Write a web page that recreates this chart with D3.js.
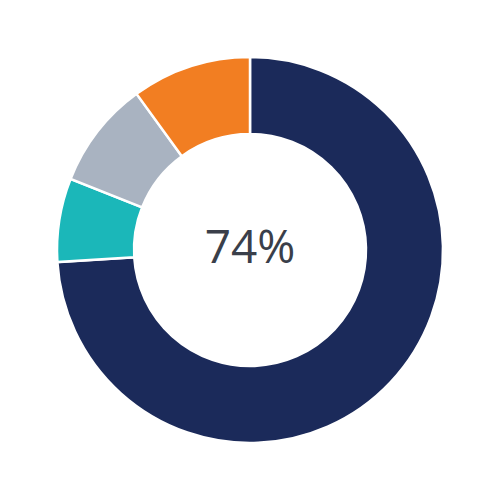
<!DOCTYPE html>
<html>
<head>
<meta charset="utf-8">
<script src="https://cdn.jsdelivr.net/npm/d3@7"></script>
<style>
  html, body { margin: 0; padding: 0; background: #fff; }
</style>
</head>
<body>
<svg id="chart" width="500" height="500"></svg>
<script>
const labels = ["Navy", "Teal", "Gray", "Orange"];
const values = [74, 7, 9, 10];
const colors = ["#1b2a5a", "#1bb7b9", "#a9b3c1", "#f27e22"];
const centerLabel = "74%";

const svg = d3.select("#chart");
const width = 500, height = 500;
const outer = 193, inner = 116;

const g = svg.append("g")
    .attr("transform", "translate(" + width / 2 + "," + height / 2 + ")");

const pie = d3.pie()
    .sort(null)
    .value(function(d) { return d; });

const arc = d3.arc()
    .innerRadius(inner)
    .outerRadius(outer);

g.selectAll("path")
    .data(pie(values))
    .enter().append("path")
    .attr("d", arc)
    .attr("fill", function(d, i) { return colors[i]; })
    .attr("stroke", "#fff")
    .attr("stroke-width", 2.5)
    .append("title")
    .text(function(d, i) { return labels[i] + ": " + d.data + "%"; });

g.append("text")
    .attr("text-anchor", "middle")
    .attr("y", 13)
    .attr("font-family", "Open Sans, sans-serif")
    .attr("font-size", 46)
    .attr("fill", "#3a3f4a")
    .text(centerLabel);
</script>
</body>
</html>
